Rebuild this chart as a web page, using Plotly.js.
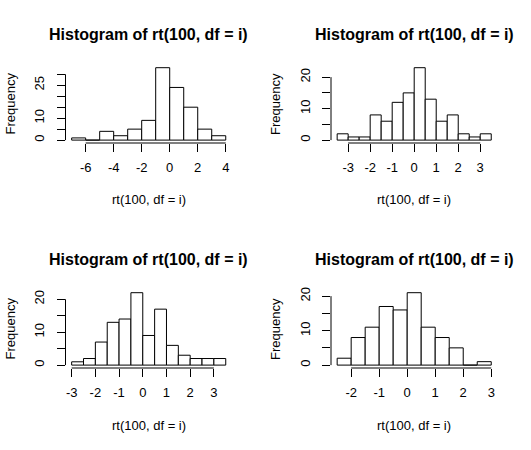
<!DOCTYPE html>
<html>
<head>
<meta charset="utf-8">
<script src="https://cdn.plot.ly/plotly-3.0.1.min.js"></script>
<style>html,body{margin:0;padding:0;background:#fff;}#chart{width:531px;height:450px;}</style>
</head>
<body>
<div id="chart"></div>
<script>
// Bin edges and counts for each panel
var breaks1 = [-7,-6,-5,-4,-3,-2,-1,0,1,2,3,4];
var counts1 = [1,0,4,2,5,9,33,24,15,5,2];
var breaks2 = [-3.5,-3,-2.5,-2,-1.5,-1,-0.5,0,0.5,1,1.5,2,2.5,3,3.5];
var counts2 = [2,1,1,8,6,12,15,23,13,6,8,2,1,2];
var breaks3 = [-3,-2.5,-2,-1.5,-1,-0.5,0,0.5,1,1.5,2,2.5,3,3.5];
var counts3 = [1,2,7,13,14,22,9,17,6,3,2,2,2];
var breaks4 = [-2.5,-2,-1.5,-1,-0.5,0,0.5,1,1.5,2,2.5,3];
var counts4 = [2,8,11,17,16,21,11,8,5,0,1];

// Tick values and labels
var xticks1 = [-6,-4,-2,0,2,4];
var xticks2 = [-3,-2,-1,0,1,2,3];
var xticks3 = [-3,-2,-1,0,1,2,3];
var xticks4 = [-2,-1,0,1,2,3];
var yticks1 = [0,5,10,15,20,25,30];
var ylabels1 = ["0","","10","","","25",""];
var yticks2 = [0,5,10,15,20];
var ylabels2 = ["0","","10","","20"];
var yticks3 = [0,5,10,15,20];
var ylabels3 = ["0","","10","","20"];
var yticks4 = [0,5,10,15,20];
var ylabels4 = ["0","","10","","20"];

var mainTitle = "Histogram of rt(100, df = i)";
var xTitle = "rt(100, df = i)";
var yTitle = "Frequency";

var panels = [
  {b: breaks1, c: counts1, xt: xticks1, yt: yticks1, yl: ylabels1},
  {b: breaks2, c: counts2, xt: xticks2, yt: yticks2, yl: ylabels2},
  {b: breaks3, c: counts3, xt: xticks3, yt: yticks3, yl: ylabels3},
  {b: breaks4, c: counts4, xt: xticks4, yt: yticks4, yl: ylabels4}
];

var W = 531, H = 450;
var FONT = "Liberation Sans, Arial, sans-serif";
var colLeft = [0, 265.5], rowTop = [0, 225];
var plotL = 65.5, plotW = 166.4, plotT = 64.8, plotH = 78.2;

var data = [];
var layout = {
  width: W, height: H,
  margin: {l:0, r:0, t:0, b:0},
  paper_bgcolor: "#fff", plot_bgcolor: "#fff",
  showlegend: false,
  bargap: 0,
  font: {family: FONT, size: 13, color: "#000"},
  annotations: [], shapes: []
};

panels.forEach(function(p, i) {
  var n = i + 1;
  var xa = "x" + (n === 1 ? "" : n), ya = "y" + (n === 1 ? "" : n);
  var xk = "xaxis" + (n === 1 ? "" : n), yk = "yaxis" + (n === 1 ? "" : n);
  var col = i % 2, row = Math.floor(i / 2);
  var mids = [], widths = [];
  for (var k = 0; k < p.c.length; k++) {
    mids.push((p.b[k] + p.b[k+1]) / 2);
    widths.push(p.b[k+1] - p.b[k]);
  }
  data.push({
    type: "bar", x: mids, y: p.c, width: widths,
    xaxis: xa, yaxis: ya,
    marker: {color: "#fff", line: {color: "#000", width: 1}},
    hoverinfo: "x+y"
  });
  var xmin = p.b[0], xmax = p.b[p.b.length - 1], xs = xmax - xmin;
  var ymax = Math.max.apply(null, p.c);
  var left = colLeft[col] + plotL, top = rowTop[row] + plotT;
  layout[xk] = {
    domain: [left / W, (left + plotW) / W],
    range: [xmin - 0.04 * xs, xmax + 0.04 * xs],
    anchor: ya, showgrid: false, zeroline: false, showline: false,
    tickmode: "array", tickvals: p.xt, ticktext: p.xt.map(String),
    ticks: "outside", ticklen: 8, tickwidth: 1, tickcolor: "#000",
    ticklabelstandoff: 4,
    tickfont: {family: FONT, size: 13, color: "#000"}, fixedrange: true
  };
  layout[yk] = {
    domain: [1 - (top + plotH) / H, 1 - top / H],
    range: [-0.04 * ymax, 1.04 * ymax],
    anchor: xa, showgrid: false, zeroline: false, showline: false,
    tickmode: "array", tickvals: p.yt, ticktext: p.yl,
    ticks: "outside", ticklen: 8, tickwidth: 1, tickcolor: "#000",
    tickangle: -90, ticklabelstandoff: 7,
    tickfont: {family: FONT, size: 13, color: "#000"}, fixedrange: true
  };
  // R-style axis lines spanning first to last tick
  layout.shapes.push({type: "line", xref: xa, yref: ya + " domain",
    x0: p.xt[0], x1: p.xt[p.xt.length - 1], y0: 0, y1: 0,
    line: {color: "#000", width: 1}});
  layout.shapes.push({type: "line", xref: xa + " domain", yref: ya,
    x0: 0, x1: 0, y0: p.yt[0], y1: p.yt[p.yt.length - 1],
    line: {color: "#000", width: 1}});
  // titles
  layout.annotations.push({text: "<b>" + mainTitle + "</b>", xref: xa + " domain", yref: ya + " domain",
    x: 0.5, y: 1, xanchor: "center", yanchor: "middle", yshift: 30.5, showarrow: false,
    font: {family: FONT, size: 16, color: "#000"}});
  layout.annotations.push({text: xTitle, xref: xa + " domain", yref: ya + " domain",
    x: 0.5, y: 0, xanchor: "center", yanchor: "middle", yshift: -57, showarrow: false,
    font: {family: FONT, size: 13, color: "#000"}});
  layout.annotations.push({text: yTitle, xref: xa + " domain", yref: ya + " domain",
    x: 0, y: 0.5, xanchor: "center", yanchor: "middle", xshift: -55, textangle: -90, showarrow: false,
    font: {family: FONT, size: 13, color: "#000"}});
});

Plotly.newPlot("chart", data, layout, {displayModeBar: false, staticPlot: true});
</script>
</body>
</html>
